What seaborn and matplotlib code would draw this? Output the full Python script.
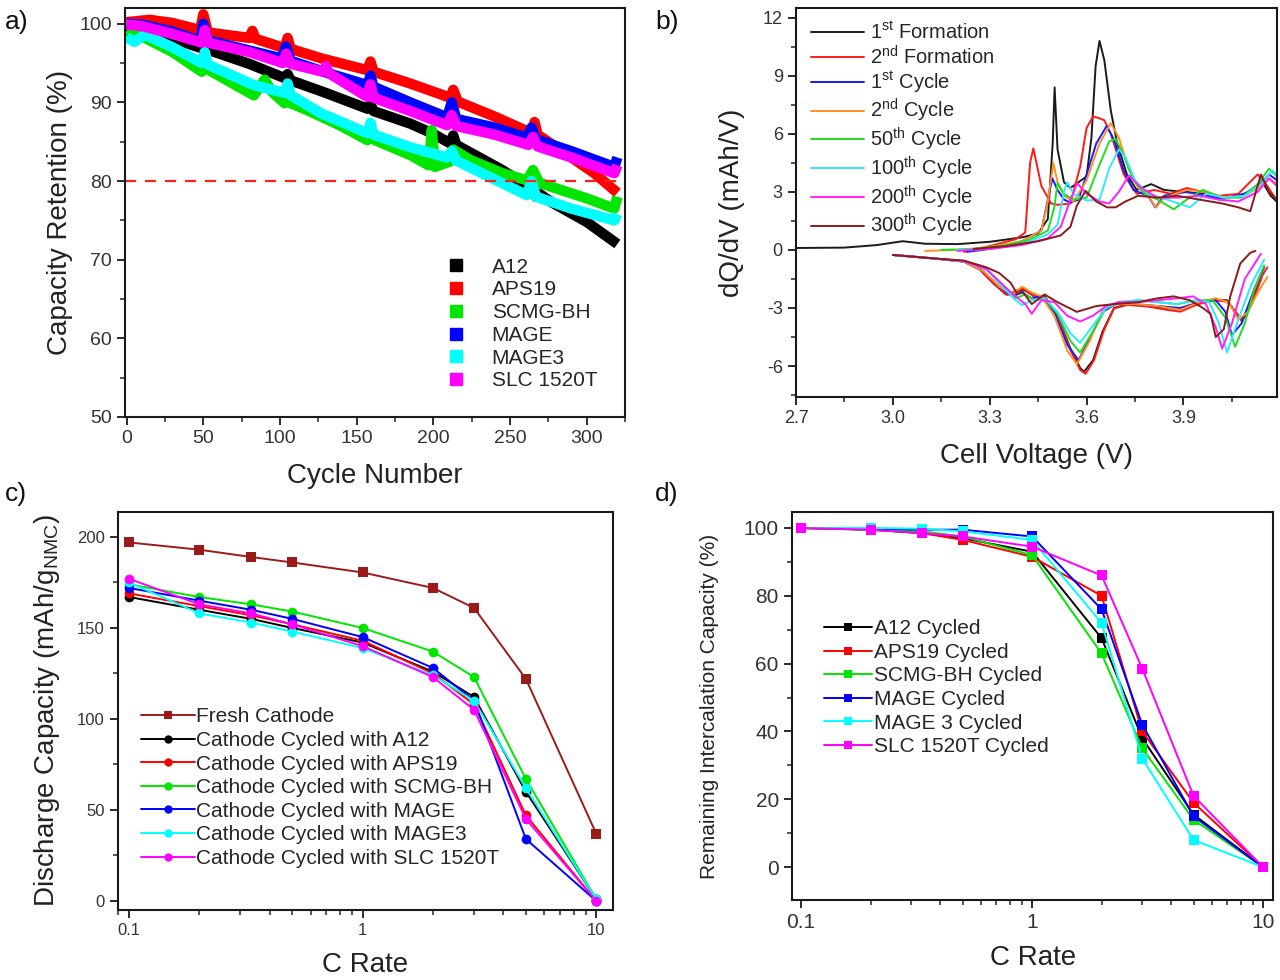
import numpy as np
import pandas as pd
import matplotlib
matplotlib.use("Agg")
import matplotlib.pyplot as plt
import seaborn as sns
from matplotlib.lines import Line2D
from matplotlib.ticker import MultipleLocator, FixedLocator, FuncFormatter, NullFormatter, LogLocator

sns.set_style("ticks")
plt.rcParams['font.family'] = ['Liberation Sans', 'DejaVu Sans']
plt.rcParams['mathtext.fontset'] = 'custom'
plt.rcParams['mathtext.rm'] = 'Liberation Sans'
plt.rcParams['axes.unicode_minus'] = False

# ---------------- Panel a data (cycle, capacity retention %) ----------------
A12_CYC = [0, 10, 30, 49, 51, 53, 80, 103, 105, 107, 130, 157, 159, 161, 185, 200, 211, 213, 215, 245, 265, 267, 269, 278, 300, 320]
A12_RET = [99.7, 99.3, 98.1, 96.9, 97.2, 96.7, 94.9, 93.1, 93.6, 92.8, 91.2, 89.2, 89.8, 88.9, 87.3, 86.0, 84.8, 85.8, 84.6, 81.4, 78.9, 78.0, 78.4, 77.2, 74.8, 72.0]
APS_CYC = [0, 15, 30, 48, 50, 53, 80, 82, 84, 103, 105, 107, 127, 157, 159, 161, 185, 211, 213, 216, 240, 264, 266, 268, 290, 305, 320]
APS_RET = [100.2, 100.5, 100.1, 99.2, 101.2, 98.9, 98.2, 99.1, 98.1, 96.9, 98.2, 96.8, 95.6, 94.1, 95.2, 93.9, 92.4, 90.6, 91.6, 90.1, 88.2, 86.1, 87.5, 85.9, 83.0, 81.0, 78.5]
SCMG_CYC = [0, 5, 10, 30, 49, 51, 53, 62, 83, 90, 95, 103, 105, 107, 118, 140, 157, 159, 162, 185, 197, 199, 201, 211, 213, 224, 245, 261, 265, 269, 278, 300, 318, 320]
SCMG_RET = [99.0, 98.8, 98.4, 96.4, 93.9, 95.8, 94.2, 93.2, 90.9, 92.9, 91.3, 89.9, 91.6, 89.9, 89.0, 87.0, 85.2, 86.9, 85.2, 83.3, 82.0, 86.5, 81.8, 82.5, 84.0, 82.7, 81.0, 80.1, 81.4, 79.8, 79.2, 77.8, 76.5, 78.0]
MAGE_CYC = [0, 10, 30, 48, 50, 53, 80, 101, 104, 107, 130, 157, 159, 161, 185, 209, 212, 215, 240, 261, 264, 267, 290, 318, 320]
MAGE_RET = [100.0, 99.9, 99.0, 97.8, 100.0, 97.9, 96.6, 95.6, 97.1, 95.3, 93.8, 92.2, 93.4, 92.0, 90.0, 88.1, 90.0, 87.9, 86.8, 85.5, 86.8, 85.3, 83.8, 81.8, 83.0]
MAGE3_CYC = [0, 5, 12, 30, 49, 51, 53, 83, 103, 105, 107, 127, 157, 159, 161, 185, 209, 212, 215, 240, 261, 264, 267, 290, 318, 320]
MAGE3_RET = [98.3, 97.7, 98.6, 97.0, 95.0, 96.4, 94.8, 92.2, 91.2, 92.4, 90.9, 88.6, 86.1, 87.4, 85.9, 84.3, 83.0, 83.8, 82.6, 80.2, 78.2, 80.0, 78.0, 76.5, 75.0, 75.8]
SLC_CYC = [0, 10, 30, 49, 51, 53, 80, 102, 104, 107, 128, 130, 132, 157, 159, 161, 185, 209, 212, 215, 240, 262, 265, 268, 290, 318, 320]
SLC_RET = [99.9, 99.7, 98.7, 97.6, 99.2, 97.6, 96.4, 95.0, 96.2, 94.9, 93.9, 94.6, 93.7, 90.7, 92.3, 90.6, 88.9, 87.1, 88.4, 87.0, 85.9, 84.6, 85.6, 84.4, 83.0, 81.0, 82.0]
A_NAMES = ["A12", "APS19", "SCMG-BH", "MAGE", "MAGE3", "SLC 1520T"]
A_COLORS = ["#000000", "#FF0000", "#00E600", "#0000FF", "#00FFFF", "#FF00FF"]
RETENTION_LIMIT = 80

# ---------------- Panel b data (voltage V, dQ/dV) ----------------
B_NAMES = [r"1$^{\rm st}$ Formation", r"2$^{\rm nd}$ Formation", r"1$^{\rm st}$ Cycle", r"2$^{\rm nd}$ Cycle",
           r"50$^{\rm th}$ Cycle", r"100$^{\rm th}$ Cycle", r"200$^{\rm th}$ Cycle", r"300$^{\rm th}$ Cycle"]
B_COLORS = ["#1A1A1A", "#FF1A1A", "#1A1AFF", "#FF9020", "#20DD20", "#30E8FF", "#FF20FF", "#8B1A1A"]

F1_CH_V = [2.70, 2.85, 2.95, 3.03, 3.10, 3.20, 3.30, 3.40, 3.45, 3.48, 3.495, 3.501, 3.51, 3.53, 3.55, 3.575, 3.60, 3.615, 3.628, 3.640, 3.655, 3.675, 3.695, 3.725, 3.755, 3.80, 3.84, 3.90, 3.96, 4.01, 4.07, 4.12, 4.145, 4.17, 4.195]
F1_CH_Q = [0.10, 0.12, 0.25, 0.45, 0.32, 0.30, 0.42, 0.65, 0.85, 1.6, 5.5, 8.4, 5.2, 3.5, 3.2, 3.5, 3.8, 5.8, 9.5, 10.8, 9.8, 7.2, 5.5, 3.9, 3.1, 3.4, 3.1, 3.0, 2.9, 2.6, 2.8, 3.1, 3.5, 2.8, 2.4]
F2_CH_V = [3.22, 3.30, 3.38, 3.41, 3.425, 3.435, 3.46, 3.49, 3.51, 3.55, 3.58, 3.60, 3.62, 3.64, 3.655, 3.675, 3.715, 3.755, 3.81, 3.86, 3.91, 3.96, 4.01, 4.07, 4.13, 4.16, 4.195]
F2_CH_Q = [-0.10, 0.20, 0.55, 0.9, 4.5, 5.25, 3.3, 2.4, 2.33, 2.4, 4.3, 6.3, 6.9, 6.8, 6.7, 6.0, 3.9, 2.9, 3.1, 2.9, 3.2, 3.0, 2.8, 2.9, 3.9, 3.3, 2.4]
C1_CH_V = [3.23, 3.30, 3.40, 3.46, 3.48, 3.494, 3.51, 3.53, 3.55, 3.575, 3.60, 3.63, 3.662, 3.685, 3.715, 3.745, 3.79, 3.813, 3.84, 3.91, 3.96, 4.02, 4.09, 4.14, 4.165, 4.19]
C1_CH_Q = [-0.10, 0.05, 0.45, 1.0, 2.6, 3.7, 3.1, 2.6, 2.45, 2.6, 3.9, 5.5, 6.4, 5.7, 4.1, 3.1, 2.8, 2.2, 2.8, 3.0, 2.85, 2.65, 2.9, 3.45, 3.9, 3.6]
C2_CH_V = [3.10, 3.20, 3.30, 3.40, 3.46, 3.48, 3.497, 3.51, 3.53, 3.56, 3.60, 3.64, 3.675, 3.70, 3.73, 3.76, 3.79, 3.815, 3.84, 3.91, 3.97, 4.03, 4.09, 4.14, 4.165, 4.19]
C2_CH_Q = [-0.05, 0.0, 0.15, 0.45, 1.0, 2.5, 4.5, 3.5, 2.8, 2.5, 3.6, 5.5, 6.55, 5.8, 4.2, 3.2, 2.8, 2.2, 2.7, 3.1, 3.0, 2.7, 2.8, 3.3, 3.7, 3.4]
C50_CH_V = [3.15, 3.25, 3.35, 3.42, 3.48, 3.50, 3.51, 3.53, 3.56, 3.60, 3.64, 3.67, 3.69, 3.715, 3.745, 3.78, 3.82, 3.87, 3.91, 3.96, 4.02, 4.08, 4.13, 4.165, 4.19]
C50_CH_Q = [0.0, 0.05, 0.25, 0.5, 1.0, 2.2, 3.45, 2.9, 2.6, 2.7, 4.4, 5.6, 5.75, 4.9, 3.6, 2.9, 2.6, 2.1, 2.6, 3.1, 2.7, 2.7, 3.4, 4.2, 3.8]
C100_CH_V = [3.20, 3.30, 3.40, 3.48, 3.51, 3.53, 3.54, 3.56, 3.60, 3.64, 3.67, 3.70, 3.72, 3.75, 3.79, 3.85, 3.92, 3.97, 4.03, 4.09, 4.14, 4.175, 4.195]
C100_CH_Q = [0.0, 0.05, 0.3, 0.8, 1.3, 3.0, 3.5, 2.9, 2.55, 2.6, 4.2, 5.2, 4.8, 3.6, 2.9, 2.6, 2.2, 2.9, 2.7, 2.8, 3.4, 4.1, 3.8]
C200_CH_V = [3.20, 3.30, 3.40, 3.48, 3.52, 3.55, 3.571, 3.60, 3.64, 3.67, 3.70, 3.731, 3.77, 3.82, 3.88, 3.95, 4.01, 4.07, 4.13, 4.165, 4.19]
C200_CH_Q = [-0.05, 0.05, 0.25, 0.6, 1.2, 2.6, 3.45, 2.9, 2.5, 2.4, 3.0, 3.85, 3.2, 2.7, 2.7, 2.8, 2.6, 2.5, 3.0, 3.7, 3.3]
C300_CH_V = [3.25, 3.35, 3.45, 3.52, 3.55, 3.57, 3.597, 3.63, 3.664, 3.69, 3.72, 3.76, 3.82, 3.88, 3.95, 4.02, 4.07, 4.107, 4.14, 4.165, 4.195]
C300_CH_Q = [0.05, 0.2, 0.45, 0.75, 1.2, 2.3, 3.05, 2.5, 2.2, 2.2, 2.5, 2.8, 2.7, 2.8, 2.6, 2.4, 2.2, 2.0, 3.9, 3.0, 2.5]

F1_DC_V = [3.00, 3.12, 3.22, 3.27, 3.31, 3.35, 3.38, 3.40, 3.44, 3.47, 3.51, 3.55, 3.58, 3.592, 3.62, 3.65, 3.685, 3.73, 3.79, 3.85, 3.89, 3.94, 3.99, 4.035, 4.06, 4.08, 4.105, 4.125, 4.14]
F1_DC_Q = [-0.26, -0.43, -0.6, -1.0, -1.7, -2.3, -2.2, -2.0, -2.4, -2.4, -3.4, -5.1, -6.1, -6.3, -5.7, -4.2, -3.0, -2.8, -2.9, -3.0, -3.1, -2.8, -2.6, -2.6, -3.2, -3.6, -2.9, -2.1, -1.5]
F2_DC_V = [3.00, 3.12, 3.22, 3.27, 3.31, 3.355, 3.386, 3.406, 3.437, 3.468, 3.51, 3.55, 3.58, 3.597, 3.623, 3.654, 3.685, 3.726, 3.79, 3.85, 3.89, 3.94, 3.99, 4.035, 4.066, 4.081, 4.107, 4.128, 4.145, 4.16]
F2_DC_Q = [-0.26, -0.43, -0.6, -1.03, -1.72, -2.33, -2.07, -1.98, -2.41, -2.41, -3.45, -5.17, -6.2, -6.4, -5.7, -4.14, -3.02, -2.84, -2.93, -3.1, -3.19, -2.84, -2.59, -2.67, -3.28, -3.71, -2.93, -2.07, -1.3, -0.9]
C1_DC_V = [3.00, 3.12, 3.22, 3.28, 3.33, 3.37, 3.40, 3.43, 3.46, 3.50, 3.54, 3.575, 3.61, 3.65, 3.69, 3.75, 3.82, 3.89, 3.95, 4.00, 4.03, 4.05, 4.08, 4.12, 4.15]
C1_DC_Q = [-0.26, -0.43, -0.6, -1.1, -1.9, -2.4, -2.2, -2.5, -2.4, -3.2, -4.9, -5.7, -4.6, -3.2, -2.8, -2.8, -2.9, -3.0, -2.7, -2.6, -3.2, -4.4, -3.8, -2.0, -0.9]
C2_DC_V = [3.00, 3.12, 3.22, 3.28, 3.33, 3.37, 3.40, 3.43, 3.46, 3.50, 3.54, 3.57, 3.61, 3.65, 3.69, 3.75, 3.82, 3.89, 3.95, 4.00, 4.04, 4.07, 4.10, 4.13, 4.16]
C2_DC_Q = [-0.26, -0.43, -0.6, -1.1, -1.9, -2.3, -1.9, -2.2, -2.4, -3.4, -5.2, -5.9, -4.7, -3.1, -2.8, -2.8, -2.9, -3.1, -2.7, -2.5, -2.7, -3.6, -3.2, -2.2, -1.4]
C50_DC_V = [3.00, 3.12, 3.22, 3.29, 3.34, 3.38, 3.41, 3.44, 3.47, 3.51, 3.55, 3.58, 3.62, 3.66, 3.70, 3.76, 3.82, 3.88, 3.94, 3.99, 4.03, 4.06, 4.09, 4.12, 4.15]
C50_DC_Q = [-0.26, -0.43, -0.58, -1.0, -1.8, -2.5, -2.3, -2.6, -2.5, -3.3, -4.7, -5.3, -4.2, -3.0, -2.7, -2.6, -2.7, -2.8, -2.6, -2.6, -3.5, -5.0, -3.8, -2.0, -0.8]
C100_DC_V = [3.00, 3.12, 3.22, 3.29, 3.34, 3.38, 3.40, 3.43, 3.47, 3.51, 3.55, 3.58, 3.62, 3.66, 3.70, 3.76, 3.82, 3.88, 3.94, 3.98, 4.01, 4.035, 4.07, 4.11, 4.15]
C100_DC_Q = [-0.26, -0.43, -0.58, -1.0, -1.9, -2.6, -2.85, -2.6, -2.5, -3.2, -4.3, -4.8, -3.9, -3.0, -2.7, -2.6, -2.7, -2.8, -2.6, -2.7, -3.8, -5.3, -3.6, -1.8, -0.5]
C200_DC_V = [3.00, 3.12, 3.22, 3.29, 3.34, 3.38, 3.41, 3.43, 3.46, 3.50, 3.54, 3.58, 3.62, 3.66, 3.70, 3.76, 3.82, 3.88, 3.93, 3.97, 4.00, 4.02, 4.05, 4.09, 4.14]
C200_DC_Q = [-0.26, -0.43, -0.58, -1.0, -1.8, -2.4, -2.8, -3.3, -2.6, -2.7, -3.4, -3.7, -3.4, -2.9, -2.7, -2.7, -2.6, -2.5, -2.4, -2.8, -4.0, -5.1, -3.8, -1.5, -0.2]
C300_DC_V = [3.00, 3.12, 3.22, 3.29, 3.33, 3.365, 3.386, 3.40, 3.43, 3.47, 3.51, 3.57, 3.63, 3.685, 3.76, 3.82, 3.87, 3.92, 3.96, 3.984, 4.00, 4.025, 4.045, 4.076, 4.107, 4.123]
C300_DC_Q = [-0.26, -0.43, -0.55, -0.9, -1.2, -1.7, -2.3, -2.1, -2.8, -2.3, -2.7, -3.2, -2.9, -2.8, -2.7, -2.5, -2.4, -2.6, -3.0, -3.3, -4.5, -4.1, -2.4, -0.7, -0.15, -0.05]

# ---------------- Panel c / d data ----------------
C_RATE = [0.1, 0.2, 0.333, 0.5, 1, 2, 3, 5, 10]
C_NAMES = ["Fresh Cathode", "Cathode Cycled with A12", "Cathode Cycled with APS19", "Cathode Cycled with SCMG-BH",
           "Cathode Cycled with MAGE", "Cathode Cycled with MAGE3", "Cathode Cycled with SLC 1520T"]
C_COLORS = ["#9B1B1B", "#000000", "#FF0000", "#00E600", "#0000FF", "#00FFFF", "#FF00FF"]
CAP_FRESH = [197, 193, 189, 186, 180.5, 172, 161, 122, 37]
CAP_A12 = [167, 160, 155, 150, 142, 126, 112, 60, 1]
CAP_APS19 = [169, 162, 157, 152, 143, 125, 108, 47, 0]
CAP_SCMG = [174, 167, 163, 159, 150, 137, 123, 67, 1]
CAP_MAGE = [172, 165, 160, 155, 145, 128, 110, 34, 0]
CAP_MAGE3 = [175, 158, 153, 148, 139, 124, 110, 62, 1]
CAP_SLC = [177, 163, 158, 152, 140, 123, 105, 45, 0]

D_NAMES = ["A12 Cycled", "APS19 Cycled", "SCMG-BH Cycled", "MAGE Cycled", "MAGE 3 Cycled", "SLC 1520T Cycled"]
D_COLORS = ["#000000", "#FF0000", "#00E600", "#0000FF", "#00FFFF", "#FF00FF"]
REM_A12 = [100, 99.5, 98.5, 97, 93, 67.5, 38, 15.5, 0]
REM_APS19 = [100, 99.5, 98.5, 96.5, 91.5, 80, 40, 19, 0]
REM_SCMG = [100, 99.5, 99, 97.5, 92, 63, 35, 14, 0]
REM_MAGE = [100, 99.8, 99.5, 99.5, 97.5, 76, 42, 15, 0]
REM_MAGE3 = [100, 100, 99.8, 99, 96.5, 72, 32, 8, 0]
REM_SLC = [100, 99.5, 98.5, 97.5, 94.5, 86, 58.5, 21, 0]

# ---------------- Figure ----------------
fig = plt.figure(figsize=(12.8, 9.8), dpi=100)
ax_a = fig.add_axes([0.0977, 0.5745, 0.3906, 0.4173])
ax_b = fig.add_axes([0.6219, 0.5949, 0.3758, 0.3969])
ax_c = fig.add_axes([0.0922, 0.0714, 0.3867, 0.4061])
ax_d = fig.add_axes([0.6188, 0.0816, 0.3758, 0.3959])


def style_axes(ax, tick_size):
    for s in ax.spines.values():
        s.set_visible(True)
        s.set_linewidth(1.5)
        s.set_color("#1a1a1a")
    ax.tick_params(which="major", direction="out", length=6, width=1.3, labelsize=tick_size,
                   top=False, right=False, colors="#1a1a1a", labelcolor="#333333")
    ax.tick_params(which="minor", direction="out", length=3.5, width=1.1, top=False, right=False)


# Panel a
a_series = [(A12_CYC, A12_RET), (APS_CYC, APS_RET), (SCMG_CYC, SCMG_RET),
            (MAGE_CYC, MAGE_RET), (MAGE3_CYC, MAGE3_RET), (SLC_CYC, SLC_RET)]
for (cx, cy), col in zip(a_series, A_COLORS):
    sns.lineplot(x=cx, y=cy, ax=ax_a, color=col, lw=7.5, sort=False, estimator=None,
                 solid_joinstyle="round", solid_capstyle="butt")
ax_a.axhline(RETENTION_LIMIT, color="#FF2020", lw=1.6, ls=(0, (5, 4)))
ax_a.set_xlim(-1, 325)
ax_a.set_ylim(50, 102)
ax_a.xaxis.set_major_locator(MultipleLocator(50))
ax_a.xaxis.set_minor_locator(MultipleLocator(25))
ax_a.yaxis.set_major_locator(MultipleLocator(10))
ax_a.yaxis.set_minor_locator(MultipleLocator(5))
style_axes(ax_a, 14)
ax_a.set_xlabel("Cycle Number", fontsize=20, color="#222222")
ax_a.set_ylabel("Capacity Retention (%)", fontsize=20, color="#222222")
ax_a.xaxis.set_label_coords(0.5, -0.112)
ax_a.yaxis.set_label_coords(-0.104, 0.5)
handles_a = [Line2D([], [], ls="none", marker="s", markersize=8, color=c) for c in A_COLORS]
ax_a.legend(handles_a, A_NAMES, loc="upper left", bbox_to_anchor=(0.625, 0.41), frameon=False,
            fontsize=15, handlelength=1.0, handletextpad=1.2, labelspacing=0.18, borderaxespad=0)

# Panel b
charge = [(F1_CH_V, F1_CH_Q), (F2_CH_V, F2_CH_Q), (C1_CH_V, C1_CH_Q), (C2_CH_V, C2_CH_Q),
          (C50_CH_V, C50_CH_Q), (C100_CH_V, C100_CH_Q), (C200_CH_V, C200_CH_Q), (C300_CH_V, C300_CH_Q)]
discharge = [(F1_DC_V, F1_DC_Q), (F2_DC_V, F2_DC_Q), (C1_DC_V, C1_DC_Q), (C2_DC_V, C2_DC_Q),
             (C50_DC_V, C50_DC_Q), (C100_DC_V, C100_DC_Q), (C200_DC_V, C200_DC_Q), (C300_DC_V, C300_DC_Q)]
b_handles = []
for i in range(len(B_NAMES)):
    cx, cy = charge[i]
    sns.lineplot(x=cx, y=cy, ax=ax_b, color=B_COLORS[i], lw=1.4, sort=False, estimator=None)
    b_handles.append(ax_b.lines[-1])
    dx, dy = discharge[i]
    sns.lineplot(x=dx, y=dy, ax=ax_b, color=B_COLORS[i], lw=1.4, sort=False, estimator=None)
ax_b.set_xlim(2.7, 4.19)
ax_b.set_ylim(-7.6, 12.5)
ax_b.xaxis.set_major_locator(FixedLocator([2.7, 3.0, 3.3, 3.6, 3.9]))
ax_b.xaxis.set_minor_locator(MultipleLocator(0.15))
ax_b.xaxis.set_major_formatter(FuncFormatter(lambda v, p: f"{v:.1f}"))
ax_b.yaxis.set_major_locator(MultipleLocator(3))
ax_b.yaxis.set_minor_locator(MultipleLocator(1.5))
style_axes(ax_b, 13)
ax_b.set_xlabel("Cell Voltage (V)", fontsize=20, color="#222222")
ax_b.set_ylabel("dQ/dV (mAh/V)", fontsize=20, color="#222222")
ax_b.xaxis.set_label_coords(0.5, -0.118)
ax_b.yaxis.set_label_coords(-0.106, 0.5)
ax_b.legend(b_handles, B_NAMES, loc="upper left", bbox_to_anchor=(0.015, 0.985), frameon=False,
            fontsize=14.5, handlelength=2.6, handletextpad=0.3, labelspacing=0.08, borderaxespad=0)

# Panel c
c_series = [CAP_FRESH, CAP_A12, CAP_APS19, CAP_SCMG, CAP_MAGE, CAP_MAGE3, CAP_SLC]
c_handles = []
for i, vals in enumerate(c_series):
    mk = "s" if i == 0 else "o"
    sns.lineplot(x=C_RATE, y=vals, ax=ax_c, color=C_COLORS[i], lw=1.4, marker=mk, markersize=7,
                 markeredgewidth=0, sort=False, estimator=None)
    c_handles.append(Line2D([], [], color=C_COLORS[i], lw=1.4, marker=mk, markersize=6, markeredgewidth=0))
ax_c.set_xscale("log")
ax_c.set_xlim(0.0897, 11.8)
ax_c.set_ylim(-5, 213.7)
ax_c.xaxis.set_major_locator(FixedLocator([0.1, 1, 10]))
ax_c.xaxis.set_major_formatter(FuncFormatter(lambda v, p: f"{v:g}"))
ax_c.xaxis.set_minor_locator(LogLocator(base=10, subs=np.arange(2, 10)))
ax_c.xaxis.set_minor_formatter(NullFormatter())
ax_c.yaxis.set_major_locator(MultipleLocator(50))
ax_c.yaxis.set_minor_locator(MultipleLocator(25))
style_axes(ax_c, 12)
ax_c.set_xlabel("C Rate", fontsize=20, color="#222222")
ax_c.set_ylabel(r"Discharge Capacity (mAh/g$_{\rm NMC}$)", fontsize=20, color="#222222")
ax_c.xaxis.set_label_coords(0.5, -0.105)
ax_c.yaxis.set_label_coords(-0.113, 0.5)
ax_c.legend(c_handles, C_NAMES, loc="lower left", bbox_to_anchor=(0.03, 0.085), frameon=False,
            fontsize=15, handlelength=2.6, handletextpad=0.05, labelspacing=0.22, borderaxespad=0)

# Panel d
d_series = [REM_A12, REM_APS19, REM_SCMG, REM_MAGE, REM_MAGE3, REM_SLC]
d_handles = []
for i, vals in enumerate(d_series):
    sns.lineplot(x=C_RATE, y=vals, ax=ax_d, color=D_COLORS[i], lw=1.4, marker="s", markersize=7,
                 markeredgewidth=0, sort=False, estimator=None)
    d_handles.append(Line2D([], [], color=D_COLORS[i], lw=1.4, marker="s", markersize=6, markeredgewidth=0))
ax_d.set_xscale("log")
ax_d.set_xlim(0.0914, 11.05)
ax_d.set_ylim(-9.7, 104.7)
ax_d.xaxis.set_major_locator(FixedLocator([0.1, 1, 10]))
ax_d.xaxis.set_major_formatter(FuncFormatter(lambda v, p: f"{v:g}"))
ax_d.xaxis.set_minor_locator(LogLocator(base=10, subs=np.arange(2, 10)))
ax_d.xaxis.set_minor_formatter(NullFormatter())
ax_d.yaxis.set_major_locator(MultipleLocator(20))
ax_d.yaxis.set_minor_locator(MultipleLocator(10))
style_axes(ax_d, 15)
ax_d.set_xlabel("C Rate", fontsize=20, color="#222222")
ax_d.set_ylabel("Remaining Intercalation Capacity (%)", fontsize=15, color="#222222")
ax_d.xaxis.set_label_coords(0.5, -0.116)
ax_d.yaxis.set_label_coords(-0.152, 0.5)
ax_d.legend(d_handles, D_NAMES, loc="upper left", bbox_to_anchor=(0.05, 0.745), frameon=False,
            fontsize=15, handlelength=2.3, handletextpad=0.1, labelspacing=0.22, borderaxespad=0)

# panel letters
for lab, (fx, fy) in zip(["a)", "b)", "c)", "d)"],
                         [(0.004, 0.990), (0.512, 0.990), (0.004, 0.508), (0.512, 0.508)]):
    fig.text(fx, fy, lab, fontsize=19, ha="left", va="top", color="#111111")

fig.savefig("out.png", dpi=100, facecolor="white")
